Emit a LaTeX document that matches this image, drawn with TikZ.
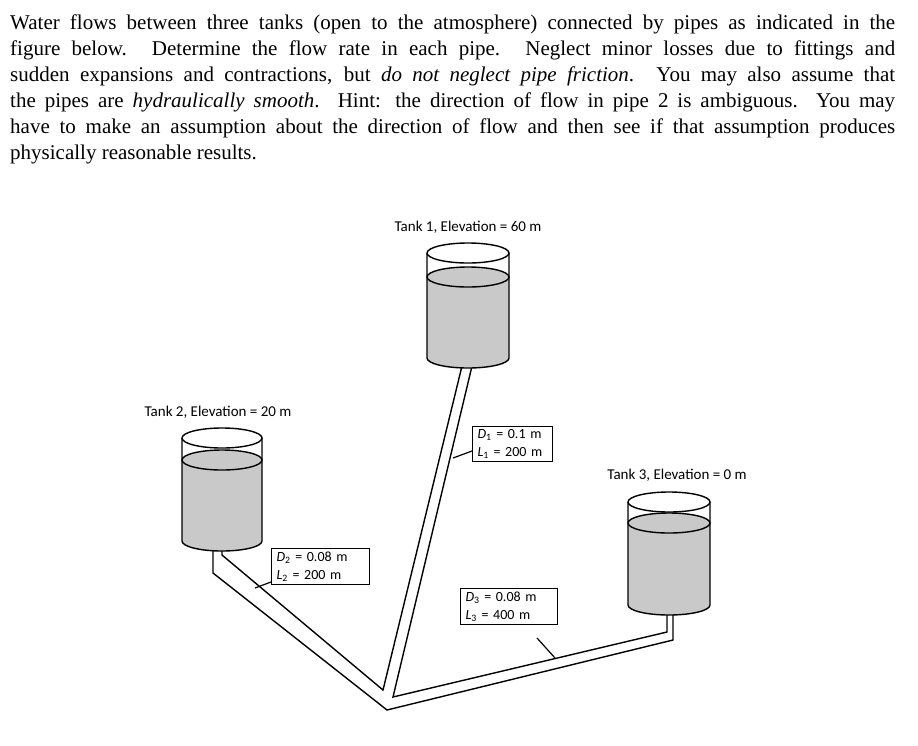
\documentclass[tikz,border=0pt]{standalone}
\usepackage{fontspec}
\setmainfont{Liberation Serif}
\newfontfamily\calfnt{Carlito}
\newcommand\drawtank[6]{% cx, ytop, ywater, ybot, rx, ry
  \fill[tankfill] (#1-#5,#3) -- (#1-#5,#4) arc[start angle=180,end angle=0,x radius=#5,y radius=#6] -- (#1+#5,#3) arc[start angle=0,end angle=-180,x radius=#5,y radius=#6] -- cycle;
  \draw[tankline] (#1,#2) ellipse[x radius=#5,y radius=#6];
  \draw[tankline] (#1,#3) ellipse[x radius=#5,y radius=#6];
  \draw[tankline] (#1-#5,#2) -- (#1-#5,#4) arc[start angle=180,end angle=0,x radius=#5,y radius=#6] -- (#1+#5,#2);
}
\begin{document}
\begin{tikzpicture}[x=1pt,y=-1pt,
  tankfill/.style={fill=black!21},
  tankline/.style={line width=1.4pt},
  pipe/.style={line width=1.4pt,line join=miter},
  lab/.style={font=\calfnt\fontsize{15}{18}\selectfont},
  infobox/.style={draw,line width=1pt,fill=white,font=\calfnt\fontsize{14}{18}\selectfont,align=left,inner xsep=5pt,inner ysep=3pt,minimum width=#1,text width=#1-10pt},
  leader/.style={line width=1.2pt}]
\useasboundingbox (0,0) rectangle (918,745);
\node[anchor=north west,inner sep=0pt,text width=885pt,align=justify,font=\fontsize{21}{26}\selectfont] (para) at (10,15)
{Water flows between three tanks (open to the atmosphere) connected by pipes as indicated in the\linebreak
figure below. Determine the flow rate in each pipe. Neglect minor losses due to fittings and\linebreak
sudden expansions and contractions, but \textit{do not neglect pipe friction}. You may also assume that\linebreak
the pipes are \textit{hydraulically smooth}. Hint: the direction of flow in pipe 2 is ambiguous. You may\linebreak
have to make an assumption about the direction of flow and then see if that assumption produces\linebreak
physically reasonable results.};

% pipes
\draw[pipe] (213,550) -- (213,573) -- (387,710) -- (673,640) -- (673,612);
\draw[pipe] (222,550) -- (222,555) -- (383,690) -- (462,366);
\draw[pipe] (472,366) -- (393,697) -- (667,632) -- (667,612);

% tanks
\drawtank{468}{253}{277}{358}{41}{10}
\drawtank{222}{438}{460}{541}{40}{10}
\drawtank{669}{502}{523}{605}{41}{10}

\node[lab] (t1) at (468,227) {Tank 1, Elevation = 60 m};
\node[lab] (t2) at (218,412) {Tank 2, Elevation = 20 m};
\node[lab] (t3) at (677,475) {Tank 3, Elevation = 0 m};

\node[infobox=80pt,anchor=north west] (b1) at (472,426) {{\itshape D}\textsubscript{1} = 0.1 m\\{\itshape L}\textsubscript{1} = 200 m};
\node[infobox=98pt,anchor=north west] (b2) at (271,548) {{\itshape D}\textsubscript{2} = 0.08 m\\{\itshape L}\textsubscript{2} = 200 m};
\node[infobox=97pt,anchor=north west] (b3) at (460,588) {{\itshape D}\textsubscript{3} = 0.08 m\\{\itshape L}\textsubscript{3} = 400 m};

\coordinate (p1) at (453,458);
\coordinate (p2) at (255,588);
\coordinate (p3) at (555,658);
\draw[leader] (b1.west |- 0,451) -- (p1);
\draw[leader] (b2.west |- 0,582) -- (p2);
\draw[leader] (537,638) -- (p3);
\end{tikzpicture}
\end{document}
